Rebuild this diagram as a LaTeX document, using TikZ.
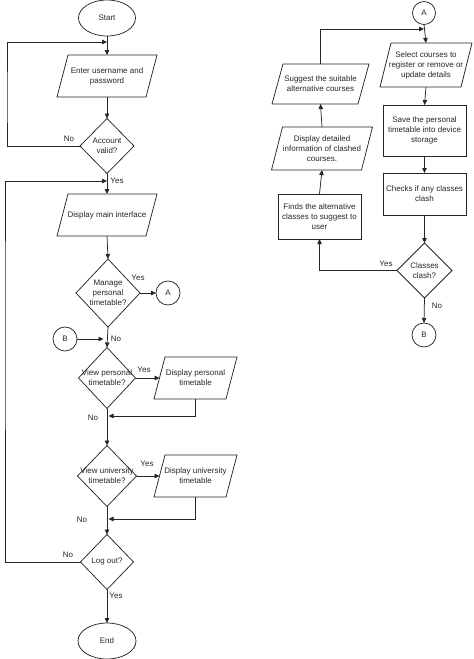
\documentclass[tikz,border=0pt]{standalone}
\usepackage{fontspec}
\setmainfont{Liberation Sans}
\usetikzlibrary{shapes.geometric,arrows.meta}
\tikzset{
  flow/.style={draw=black!85, line width=0.75pt},
  arr/.style={flow, -{Triangle[length=5pt,width=4.5pt]}},
  txt/.style={font=\fontsize{8}{10}\selectfont, text=black!85, align=center},
  box/.style={txt, flow, rectangle, inner sep=1pt, outer sep=0pt},
  parabox/.style={txt, rectangle, inner sep=1pt, outer sep=0pt},
  oval/.style={txt, flow, ellipse, inner sep=0pt, outer sep=0pt},
  conn/.style={txt, flow, circle, minimum size=24pt, inner sep=0pt, outer sep=0pt},
  dia/.style={flow, diamond, inner sep=0pt, outer sep=0pt},
  lbl/.style={txt},
}
\newcommand\paraoutline[1]{\draw[flow] ([xshift=5.5pt]#1.north west) -- ([xshift=5.5pt]#1.north east) -- ([xshift=-5.5pt]#1.south east) -- ([xshift=-5.5pt]#1.south west) -- cycle;}
\begin{document}
\begin{tikzpicture}[x=1pt,y=-1pt]
\useasboundingbox (0,0) rectangle (474,659);
% ---------- left column ----------
\node[oval, minimum width=57pt, minimum height=36pt] (start) at (107,18) {Start};
\node[parabox, minimum width=89pt, minimum height=42pt] (enter) at (107,76) {Enter username and\\password};
\paraoutline{enter}
\node[dia, minimum width=54pt, minimum height=55pt, label={[lbl]center:Account\\valid?}] (acc) at (107,146) {};
\node[parabox, minimum width=89pt, minimum height=42pt] (main) at (107,215) {Display main interface};
\paraoutline{main}
\node[dia, minimum width=64pt, minimum height=68pt, label={[lbl]center:Manage\\personal\\timetable?}] (manage) at (108,293) {};
\node[conn] (A1) at (168,293) {A};
\node[conn] (B1) at (65,339) {B};
\node[dia, minimum width=57pt, minimum height=61pt, label={[lbl]center:View personal\\timetable?}] (viewp) at (107,378) {};
\node[parabox, minimum width=72pt, minimum height=42pt] (dispp) at (195.5,378) {Display personal\\timetable};
\paraoutline{dispp}
\node[dia, minimum width=59pt, minimum height=61pt, label={[lbl]center:View university\\timetable?}] (viewu) at (107,476) {};
\node[parabox, minimum width=72pt, minimum height=42pt] (dispu) at (195.5,476) {Display university\\timetable};
\paraoutline{dispu}
\node[dia, minimum width=53pt, minimum height=55pt, label={[lbl]center:Log out?}] (logout) at (107,562) {};
\node[oval, minimum width=58pt, minimum height=36pt] (end) at (107,641) {End};
% ---------- right column ----------
\node[conn, minimum size=23pt] (A2) at (424,13) {A};
\node[parabox, minimum width=81pt, minimum height=44pt] (select) at (426,65) {Select courses to\\register or remove or\\update details};
\paraoutline{select}
\node[box, minimum width=83pt, minimum height=51pt] (save) at (424.5,130.5) {Save the personal\\timetable into device\\storage};
\node[box, minimum width=83pt, minimum height=42pt] (checks) at (424.5,194) {Checks if any classes\\clash};
\node[dia, minimum width=55pt, minimum height=55pt, label={[lbl]center:Classes\\clash?}] (clash) at (424.5,270.5) {};
\node[conn] (B2) at (424,335) {B};
\node[box, minimum width=83pt, minimum height=45pt] (finds) at (319.5,216.5) {Finds the alternative\\classes to suggest to\\user};
\node[parabox, minimum width=90pt, minimum height=43pt] (detail) at (322,148.5) {Display detailed\\information of clashed\\courses.};
\paraoutline{detail}
\node[parabox, minimum width=86pt, minimum height=40pt] (suggest) at (320.5,84) {Suggest the suitable\\alternative courses};
\paraoutline{suggest}
% ---------- junction coordinates ----------
\coordinate (lx1) at (7,100);
\coordinate (j1) at (107,42);
\coordinate (lx2) at (5,300);
\coordinate (j2) at (107,181);
\coordinate (j3) at (108.5,416);
\coordinate (j4) at (108.5,519);
\coordinate (j5) at (424,29);
\coordinate (j6) at (103.5,339);
% ---------- connectors left ----------
\draw[arr] (start.south) -- (enter.north);
\draw[arr] (enter.south) -- (acc.north);
\draw[arr] (acc.west) -| (lx1) |- (j1);
\draw[arr] (acc.south) -- (main.north);
\draw[arr] (main.south) -- (manage.north);
\draw[arr] (manage.east) -- (A1.west);
\draw[arr] (manage.south) -- (viewp.north);
\draw[arr] (B1.east) -- (j6);
\draw[arr] (viewp.east) -- (dispp.west);
\draw[arr] (dispp.south) |- (j3);
\draw[arr] (viewp.south) -- (viewu.north);
\draw[arr] (viewu.east) -- (dispu.west);
\draw[arr] (dispu.south) |- (j4);
\draw[arr] (viewu.south) -- (logout.north);
\draw[arr] (logout.west) -| (lx2) |- (j2);
\draw[arr] (logout.south) -- (end.north);
% ---------- connectors right ----------
\draw[arr] (A2.south) -- (select.north);
\draw[arr] (select.south) -- (save.north);
\draw[arr] (save.south) -- (checks.north);
\draw[arr] (checks.south) -- (clash.north);
\draw[arr] (clash.west) -| (finds.south);
\draw[arr] (clash.south) -- (B2.north);
\draw[arr] (finds.north) -- (detail.south);
\draw[arr] (detail.north) -- (suggest.south);
\draw[arr] (suggest.north) |- (j5);
% ---------- edge labels ----------
\node[lbl] (l1) at (69,139) {No};
\node[lbl] (l2) at (117,181) {Yes};
\node[lbl] (l3) at (138,278) {Yes};
\node[lbl] (l4) at (116,339) {No};
\node[lbl] (l5) at (144,370) {Yes};
\node[lbl] (l6) at (93,418) {No};
\node[lbl] (l7) at (147,464) {Yes};
\node[lbl] (l8) at (82,520) {No};
\node[lbl] (l9) at (68,555) {No};
\node[lbl] (l10) at (116,596) {Yes};
\node[lbl] (l11) at (386,264) {Yes};
\node[lbl] (l12) at (437,306) {No};
\end{tikzpicture}
\end{document}
